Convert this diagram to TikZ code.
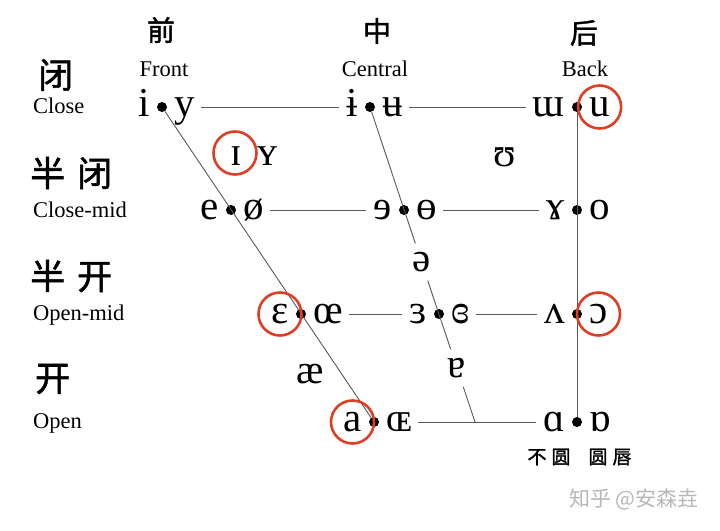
\documentclass[tikz,border=0pt]{standalone}
\usepackage{fontspec}
\setmainfont{Liberation Serif}
\newfontfamily\cjk{Noto Sans CJK SC}[FakeBold=1.5]
\newfontfamily\cjkthin{Noto Sans CJK SC}
\usepackage{xcolor}
\usetikzlibrary{positioning, calc}
\definecolor{ringred}{RGB}{222,62,36}

\begin{document}
\begin{tikzpicture}[
    x=1pt, y=-1pt,
    node distance=7pt,
    vowel/.style={inner sep=0pt, font=\fontsize{41}{41}\selectfont, text height=27.8pt, text depth=9pt},
    vdot/.style={circle, fill=black, inner sep=0pt, minimum size=10pt},
    ring/.style={circle, draw=ringred, line width=2.6pt, minimum size=43pt, inner sep=0pt},
    rowlab/.style={anchor=base west, inner sep=0pt, font=\fontsize{22.5}{22.5}\selectfont},
    collab/.style={anchor=base, inner sep=0pt, font=\fontsize{22.5}{22.5}\selectfont},
    cjkrow/.style={anchor=west, inner sep=0pt, font=\cjk\fontsize{35}{35}\selectfont},
    cjkcol/.style={inner sep=0pt, font=\cjk\fontsize{28}{28}\selectfont},
    cjksmall/.style={inner sep=0pt, font=\cjk\fontsize{19}{19}\selectfont},
    chart/.style={draw=black!65, line width=0.9pt},
    hline/.style={chart, shorten <=6pt, shorten >=7pt}
]
    \fill[white] (0,0) rectangle (720,530);

    % Column heads
    \node[cjkcol] (qian) at (161,30) {前};
    \node[cjkcol] (zhong) at (377,31) {中};
    \node[cjkcol] (hou) at (584,33) {后};
    \node[collab] (front) at (164,76) {Front};
    \node[collab] (central) at (375,76) {Central};
    \node[collab] (back) at (585,76) {Back};

    % Row heads
    \node[cjkrow] (bi) at (38,75) {闭};
    \node[rowlab] (close) at (33,113) {Close};
    \node[cjkrow] (banbi) at (30,173) {半\hspace{12pt}闭};
    \node[rowlab] (closemid) at (33,217) {Close-mid};
    \node[cjkrow] (bankai) at (30,276) {半\hspace{12pt}开};
    \node[rowlab] (openmid) at (33,320) {Open-mid};
    \node[cjkrow] (kai) at (35,379) {开};
    \node[rowlab] (open) at (33,428) {Open};

    % Chart points
    \node[vdot] (f1) at (162,107) {};
    \node[vdot] (c1) at (370,107) {};
    \node[vdot] (b1) at (577,107) {};
    \node[vdot] (f2) at (231,210) {};
    \node[vdot] (c2) at (404,210) {};
    \node[vdot] (b2) at (577,210) {};
    \node[vdot] (f3) at (301,314) {};
    \node[vdot] (c3) at (439,314) {};
    \node[vdot] (b3) at (577,314) {};
    \node[vdot] (f4) at (374,422) {};
    \coordinate (cb) at (475,422);
    \node[vdot] (b4) at (577,422) {};

    % Close
    \node[vowel, left=of f1] (vi) {i};
    \node[vowel, right=of f1] (vy) {y};
    \node[vowel, left=of c1] (vib) {ɨ};
    \node[vowel, right=of c1] (vub) {ʉ};
    \node[vowel, left=of b1] (vmw) {ɯ};
    \node[vowel, right=of b1] (vu) {u};

    % Near-close
    \node[vowel] (vsi) at (236,156) {ɪ};
    \node[vowel] (vsy) at (268,156) {ʏ};
    \node[vowel] (vups) at (505,157) {ʊ};

    % Close-mid
    \node[vowel, left=of f2] (ve) {e};
    \node[vowel, right=of f2] (voe) {ø};
    \node[vowel, left=of c2] (vre) {ɘ};
    \node[vowel, right=of c2] (vbo) {ɵ};
    \node[vowel, left=of b2] (vga) {ɤ};
    \node[vowel, right=of b2] (vo) {o};

    % Mid
    \node[vowel] (vschwa) at ($(c2)!0.5!(c3)$) {ə};

    % Open-mid
    \node[vowel, left=of f3] (veps) {ɛ};
    \node[vowel, right=of f3] (voel) {œ};
    \node[vowel, left=of c3] (vrr) {ɜ};
    \node[vowel, right=of c3] (vcr) {ɞ};
    \node[vowel, left=of b3] (vwv) {ʌ};
    \node[vowel, right=of b3] (voo) {ɔ};

    % Near-open
    \node[vowel] (vae) at (310,374) {æ};
    \node[vowel] (vtur) at ($(c3)!0.5!(cb)$) {ɐ};

    % Open
    \node[vowel, left=of f4] (va) {a};
    \node[vowel, right=of f4] (voee) {ɶ};
    \node[vowel, left=of b4] (val) {ɑ};
    \node[vowel, right=of b4] (vtal) {ɒ};

    % Lip rounding
    \node[cjksmall] (unround) at (549,457) {不\hspace{5pt}圆};
    \node[cjksmall] (round) at (610,457) {圆\hspace{5pt}唇};
    \node[inner sep=0pt, text=black!28, font=\cjkthin\fontsize{21}{21}\selectfont] (mark) at (634,499) {知乎 @安森垚};

    % Lines
    \draw[hline] (vy) -- (vib); \draw[hline] (vub) -- (vmw);
    \draw[hline] (voe) -- (vre); \draw[hline] (vbo) -- (vga);
    \draw[hline] (voel) -- (vrr); \draw[hline] (vcr) -- (vwv);
    \draw[hline] (voee) -- (val);
    \draw[chart] (f1) -- (f4);
    \draw[chart] (c1) -- (vschwa); \draw[chart] (vschwa) -- (vtur); \draw[chart] (vtur) -- (cb);
    \draw[chart] (b1) -- (b4);

    % Circled vowels
    \node[ring] (rsi) at (235,153) {};
    \node[ring] (ru) at (vu) {};
    \node[ring] (reps) at (veps) {};
    \node[ring] (roo) at (voo) {};
    \node[ring] (ra) at (va) {};
\end{tikzpicture}
\end{document}
